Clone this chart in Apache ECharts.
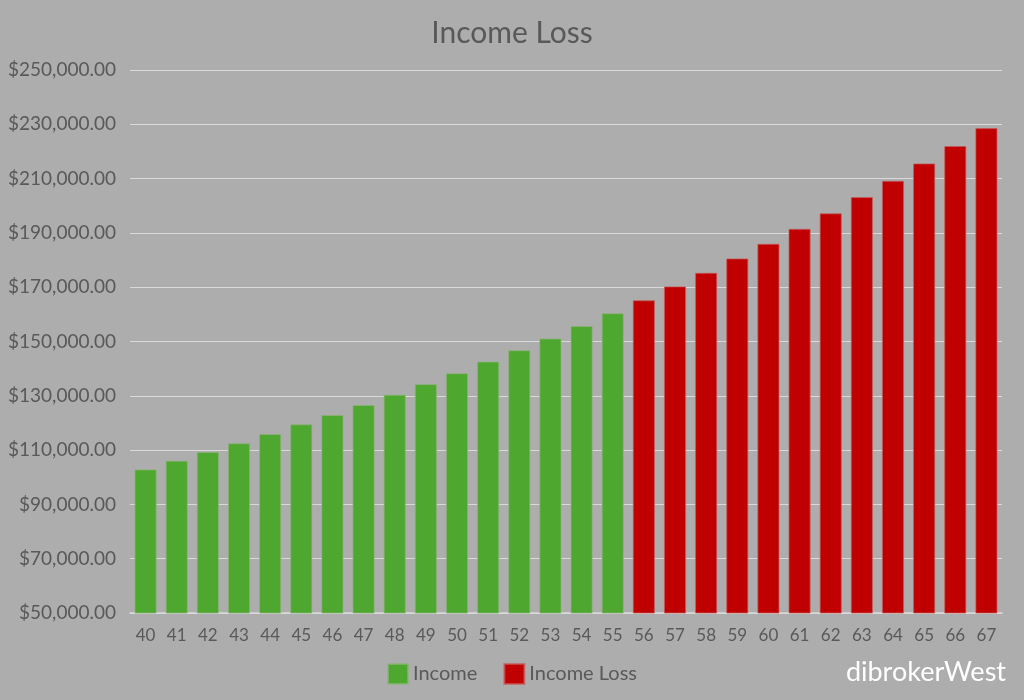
<!DOCTYPE html>
<html>
<head>
<meta charset="utf-8">
<style>
  html, body { margin: 0; padding: 0; background: #adadad; }
  #chart { width: 1024px; height: 700px; }
</style>
<script src="https://cdn.jsdelivr.net/npm/echarts@6/dist/echarts.min.js"></script>
</head>
<body>
<div id="chart"></div>
<script>
// ages on the x axis
const ages = [40, 41, 42, 43, 44, 45, 46, 47, 48, 49, 50, 51, 52, 53,
  54, 55, 56, 57, 58, 59, 60, 61, 62, 63, 64, 65, 66, 67];

// green bars (40-55), empty afterwards
const income = [102900, 106100, 109300, 112500, 115900, 119500, 122900, 126600,
  130400, 134300, 138300, 142600, 146800, 151100, 155700, 160400,
  null, null, null, null, null, null, null, null, null, null, null, null];

// red bars (56-67)
const incomeLoss = [null, null, null, null, null, null, null, null,
  null, null, null, null, null, null, null, null,
  165200, 170300, 175300, 180600, 186000, 191500, 197200, 203200, 209200, 215600, 222000, 228600];

const textColor = '#595959';
const fontFamily = 'Lato, "Open Sans", sans-serif';

const option = {
  backgroundColor: '#adadad',
  textStyle: { fontFamily: fontFamily },
  title: {
    text: 'Income Loss',
    left: 'center',
    top: 13,
    textStyle: { color: textColor, fontSize: 30, fontWeight: 'normal', fontFamily: fontFamily }
  },
  legend: {
    bottom: 10,
    left: 'center',
    itemWidth: 20,
    itemHeight: 20,
    itemGap: 26,
    icon: 'rect',
    textStyle: { color: textColor, fontSize: 20, fontFamily: fontFamily },
    data: ['Income', 'Income Loss']
  },
  graphic: [{
    type: 'text',
    right: 18,
    bottom: 14,
    style: { text: 'dibrokerWest', fill: '#ffffff', fontSize: 27, fontFamily: fontFamily }
  }],
  grid: { left: 130, right: 22, top: 70, bottom: 87 },
  xAxis: {
    type: 'category',
    data: ages,
    axisLine: { lineStyle: { color: '#d9d9d9', width: 1.5 } },
    axisTick: { show: false },
    axisLabel: { color: textColor, fontSize: 17, margin: 14 }
  },
  yAxis: {
    type: 'value',
    min: 50000,
    max: 250000,
    interval: 20000,
    axisLine: { show: false },
    axisTick: { show: false },
    splitLine: { lineStyle: { color: '#d9d9d9', width: 1.2 } },
    axisLabel: {
      color: textColor,
      fontSize: 19,
      margin: 14,
      formatter: v => '$' + v.toLocaleString('en-US', { minimumFractionDigits: 2, maximumFractionDigits: 2 })
    }
  },
  series: [
    {
      name: 'Income',
      type: 'bar',
      stack: 'all',
      data: income,
      barCategoryGap: '29%',
      itemStyle: { color: '#4ea72e', borderColor: 'rgba(140,180,120,0.7)', borderWidth: 1 }
    },
    {
      name: 'Income Loss',
      type: 'bar',
      stack: 'all',
      data: incomeLoss,
      barCategoryGap: '29%',
      itemStyle: { color: '#c00000', borderColor: 'rgba(200,90,90,0.7)', borderWidth: 1 }
    }
  ]
};

const myChart = echarts.init(document.getElementById('chart'));
myChart.setOption(option);
</script>
</body>
</html>
